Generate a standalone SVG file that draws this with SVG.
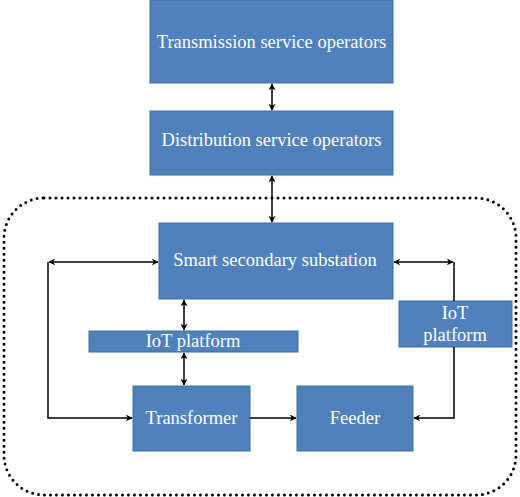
<svg xmlns="http://www.w3.org/2000/svg" width="520" height="497" viewBox="0 0 520 497">
<style>
.box{fill:#4F81BD;stroke:#41719C;stroke-width:1}
.t{font-family:"Liberation Serif",serif;font-size:18.5px;fill:#fff;text-anchor:middle}
.c{fill:none;stroke:#000;stroke-width:1.5}
.dot{fill:none;stroke:#000;stroke-width:3;stroke-linecap:round;stroke-dasharray:0 6}
</style>
<defs>
<marker id="ah" viewBox="0 0 10 10" refX="9" refY="5" markerWidth="7" markerHeight="7" orient="auto-start-reverse" markerUnits="userSpaceOnUse">
<path d="M0,0 L10,5 L0,10 L3,5 Z" fill="#000"/>
</marker>
</defs>
<rect class="dot" x="4" y="198" width="512" height="297" rx="40" ry="40"/>
<g id="tso"><rect class="box" x="150" y="0" width="243" height="83"/><text class="t" x="271.5" y="48">Transmission service operators</text></g>
<g id="dso"><rect class="box" x="150" y="111" width="243" height="64"/><text class="t" x="271.5" y="146">Distribution service operators</text></g>
<g id="sss"><rect class="box" x="159" y="223" width="234" height="76"/><text class="t" x="275" y="266">Smart secondary substation</text></g>
<g id="iot1"><rect class="box" x="89" y="331" width="209" height="21"/><text class="t" x="193" y="347">IoT platform</text></g>
<g id="iot2"><rect class="box" x="399" y="301" width="113" height="46"/><text class="t" x="455" y="319">IoT</text><text class="t" x="455" y="341">platform</text></g>
<g id="transformer"><rect class="box" x="133" y="386" width="117" height="65"/><text class="t" x="191.5" y="424">Transformer</text></g>
<g id="feeder"><rect class="box" x="297" y="386" width="116" height="65"/><text class="t" x="355" y="424">Feeder</text></g>
<g id="connectors">
<line class="c" x1="272" y1="84" x2="272" y2="110" marker-start="url(#ah)" marker-end="url(#ah)"/>
<line class="c" x1="272" y1="176" x2="272" y2="222" marker-start="url(#ah)" marker-end="url(#ah)"/>
<line class="c" x1="49" y1="262" x2="158" y2="262" marker-start="url(#ah)" marker-end="url(#ah)"/>
<polyline class="c" points="48,262 48,418 132,418" marker-end="url(#ah)"/>
<line class="c" x1="394" y1="262" x2="453" y2="262" marker-start="url(#ah)" marker-end="url(#ah)"/>
<line class="c" x1="454" y1="262" x2="454" y2="301"/>
<polyline class="c" points="454,347 454,418 414,418" marker-end="url(#ah)"/>
<line class="c" x1="250" y1="418" x2="296" y2="418" marker-end="url(#ah)"/>
<line class="c" x1="184" y1="300" x2="184" y2="330" marker-start="url(#ah)" marker-end="url(#ah)"/>
<line class="c" x1="184" y1="353" x2="184" y2="385" marker-start="url(#ah)" marker-end="url(#ah)"/>
</g>
</svg>
